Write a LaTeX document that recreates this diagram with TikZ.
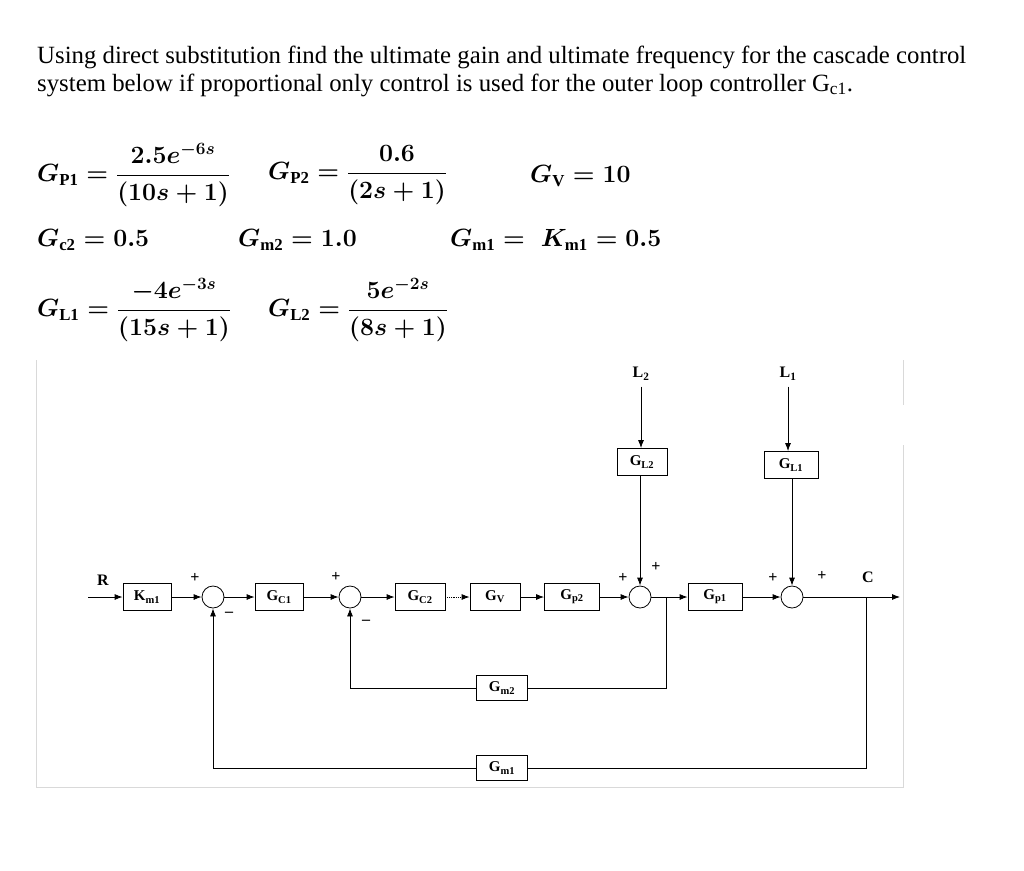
\documentclass[tikz,border=0pt]{standalone}
\usepackage{fontspec}
\usepackage{amsmath}
\setmainfont{Liberation Serif}
\usetikzlibrary{arrows.meta}
\begin{document}
\begin{tikzpicture}[x=1pt,y=-1pt,
  blk/.style={draw,thick,minimum width=48pt,minimum height=27pt,inner sep=1pt,font=\fontsize{15}{17}\selectfont\bfseries},
  sumj/.style={draw,thick,circle,minimum size=22pt,inner sep=0pt},
  sig/.style={font=\fontsize{16}{17}\selectfont\bfseries,inner sep=0pt},
  lab/.style={font=\fontsize{16}{17}\selectfont\bfseries,inner sep=0pt},
  eq/.style={anchor=west,inner sep=0pt,font=\fontsize{24}{28}\selectfont\boldmath},
  arr/.style={thick,-{Latex[length=8pt,width=6pt]}},
  ln/.style={thick}]
\useasboundingbox (0,0) rectangle (1024,870);
\node[anchor=west,font=\fontsize{24.8}{28}\selectfont,align=left,inner sep=0pt] (title) at (37,71) {Using direct substitution find the ultimate gain and ultimate frequency for the cascade control\\system below if proportional only control is used for the outer loop controller G\textsubscript{c1}.};
% equations
\node[eq] (e1) at (37,175) {$G_{\mathrm{P1}}=\dfrac{2.5e^{-6s}}{(10s+1)}$};
\node[eq] (e2) at (268,175) {$G_{\mathrm{P2}}=\dfrac{\;0.6\;}{(2s+1)}$};
\node[eq] (e3) at (530,176) {$G_{\mathrm{V}}=10$};
\node[eq] (e4) at (37,240) {$G_{\mathrm{c2}}=0.5$};
\node[eq] (e5) at (238,240) {$G_{\mathrm{m2}}=1.0$};
\node[eq] (e6) at (450,240) {$G_{\mathrm{m1}}=\;K_{\mathrm{m1}}=0.5$};
\node[eq] (e7) at (37,310) {$G_{\mathrm{L1}}=\dfrac{-4e^{-3s}}{(15s+1)}$};
\node[eq] (e8) at (268,310) {$G_{\mathrm{L2}}=\dfrac{5e^{-2s}}{(8s+1)}$};
% frame
\draw[black!15] (36,360) -- (36,787) -- (903,787) -- (903,445);
\draw[black!15] (903,360) -- (903,405);
% blocks
\node[blk] (km) at (147,597) {K\textsubscript{m1}};
\node[sumj] (s1) at (213,597) {};
\node[blk] (gc1) at (279,597) {G\textsubscript{C1}};
\node[sumj] (s2) at (350,597) {};
\node[blk,minimum width=50pt] (gc2) at (420,597) {G\textsubscript{C2}};
\node[blk,minimum width=50pt] (gv) at (495,597) {G\textsubscript{V}};
\node[blk,minimum width=55pt] (gp2) at (572,597) {G\textsubscript{p2}};
\node[sumj] (s3) at (640,597) {};
\node[blk,minimum width=54pt] (gp1) at (715,597) {G\textsubscript{p1}};
\node[sumj] (s4) at (792,597) {};
\node[blk,minimum width=50pt] (gl2) at (642,462) {G\textsubscript{L2}};
\node[blk,minimum width=54pt] (gl1) at (791,465) {G\textsubscript{L1}};
\node[blk,minimum width=51pt,minimum height=25pt] (gm2) at (502,688) {G\textsubscript{m2}};
\node[blk,minimum width=51pt,minimum height=25pt] (gm1) at (502,768) {G\textsubscript{m1}};
\node[lab] (R) at (103,580) {R};
\node[lab] (C) at (868,577) {C};
\node[lab] (L2) at (641,374) {L\textsubscript{2}};
\node[lab] (L1) at (788,374) {L\textsubscript{1}};
\coordinate (rin) at (88,597);
\coordinate (cout) at (900,597);
\coordinate (b1) at (866,597);
\coordinate (b2) at (666,597);
% signs
\node[sig] (p1) at (195,578) {+};
\node[sig] (m1) at (229,614) {--};
\node[sig] (p2) at (336,577) {+};
\node[sig] (m2) at (366,622) {--};
\node[sig] (p3) at (623,578) {+};
\node[sig] (p3b) at (656,567) {+};
\node[sig] (p4) at (773,578) {+};
\node[sig] (p4b) at (822,576) {+};
% connectors
\draw[arr] (rin) -- (km);
\draw[arr] (km) -- (s1);
\draw[arr] (s1) -- (gc1);
\draw[arr] (gc1) -- (s2);
\draw[arr] (s2) -- (gc2);
\draw[arr,densely dotted] (gc2) -- (gv);
\draw[arr] (gv) -- (gp2);
\draw[arr] (gp2) -- (s3);
\draw[arr] (s3) -- (gp1);
\draw[arr] (gp1) -- (s4);
\draw[arr] (s4) -- (cout);
\draw[arr] (L2.south) ++(0,6) -- (gl2.north -| L2);
\draw[arr] (L1.south) ++(0,6) -- (gl1.north -| L1);
\draw[arr] (gl2.south -| s3) -- (s3);
\draw[arr] (gl1.south -| s4) -- (s4);
\draw[ln] (b2) |- (gm2.east);
\draw[arr] (gm2.west) -| (s2.south);
\draw[ln] (b1) |- (gm1.east);
\draw[arr] (gm1.west) -| (s1.south);
\end{tikzpicture}
\end{document}
